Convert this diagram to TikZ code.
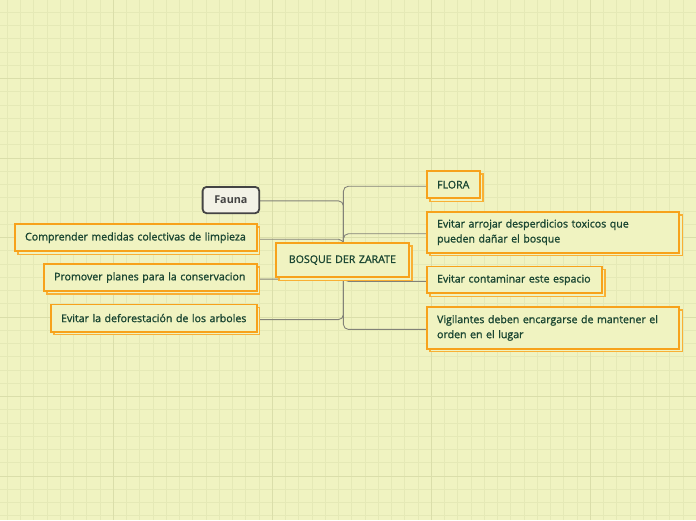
\documentclass[tikz,border=0pt]{standalone}
\usepackage{fontspec}
\setmainfont{Open Sans}
\newfontfamily\topicfont{Open Sans}[FakeBold=1.3]
\usetikzlibrary{calc,shadows}
\definecolor{bgc}{RGB}{240,243,193}
\definecolor{gridc}{RGB}{229,233,182}
\definecolor{gridm}{RGB}{218,222,170}
\definecolor{orangec}{RGB}{247,162,27}
\definecolor{shadc}{RGB}{249,176,52}
\definecolor{txtc}{RGB}{26,70,50}
\definecolor{connc}{RGB}{130,130,120}
\definecolor{faunab}{RGB}{68,68,68}
\definecolor{faunaf}{RGB}{243,242,230}
\pgfdeclarelayer{gridlayer}
\pgfdeclarelayer{connlayer}
\pgfsetlayers{gridlayer,connlayer,main}
\tikzset{
  topicbox/.style={draw=orangec, line width=1.8pt, fill=bgc, anchor=north west,
    inner xsep=10pt, inner ysep=0pt, text=txtc,
    font=\topicfont\fontsize{10.6}{15}\selectfont, align=left,
    general shadow={shadow xshift=3pt, shadow yshift=-3pt, draw=shadc, line width=1.5pt, fill=bgc}},
  faunabox/.style={draw=faunab, line width=1.8pt, fill=faunaf, rounded corners=4pt,
    anchor=north west, inner sep=0pt, text=faunab, font=\fontsize{10.8}{13}\selectfont\bfseries},
  conn/.style={draw=connc, line width=0.9pt, rounded corners=5pt},
  minorline/.style={draw=gridc, line width=0.8pt},
  majorline/.style={draw=gridm, line width=0.9pt}
}
\begin{document}
\begin{tikzpicture}[x=1pt,y=-1pt]
\useasboundingbox (0,0) rectangle (696,520);
\begin{pgfonlayer}{gridlayer}
  \fill[bgc] (0,0) rectangle (696,520);
  \foreach \i in {0,...,51} { \draw[minorline] ({7.3+13.25*\i},0) -- ({7.3+13.25*\i},520); }
  \foreach \i in {0,...,38} { \draw[minorline] (0,{12.3+13.25*\i}) -- (696,{12.3+13.25*\i}); }
  \foreach \i in {8,20,32,44} { \draw[majorline] ({7.3+13.25*\i},0) -- ({7.3+13.25*\i},520); }
  \foreach \i in {5,11,17,23,29,35} { \draw[majorline] (0,{12.3+13.25*\i}) -- (696,{12.3+13.25*\i}); }
\end{pgfonlayer}

\node[topicbox, align=center, minimum width=133.2pt, minimum height=34.5pt, text width=113.2pt] (center) at (274.9,241.9) {BOSQUE DER ZARATE};

\node[faunabox, minimum width=56.6pt, minimum height=26.3pt] (fauna) at (201.7,186) {Fauna};
\node[topicbox, minimum width=241.6pt, minimum height=27.2pt, text width=221.6pt] (comprender) at (14.2,223.2) {Comprender medidas colectivas de limpieza};
\node[topicbox, minimum width=212.6pt, minimum height=27pt, text width=192.6pt] (promover) at (43.2,263.2) {Promover planes para la conservacion};
\node[topicbox, minimum width=205.6pt, minimum height=27.2pt, text width=185.6pt] (deforest) at (50.2,303.6) {Evitar la deforestación de los arboles};

\node[topicbox, minimum width=52.9pt, minimum height=27.2pt, text width=32.9pt] (flora) at (426.2,170.2) {FLORA};
\node[topicbox, minimum width=252.2pt, minimum height=40.9pt, text width=232.2pt] (arrojar) at (426.2,210.9) {Evitar arrojar desperdicios toxicos que\\pueden dañar el bosque};
\node[topicbox, minimum width=174.9pt, minimum height=26.8pt, text width=154.9pt] (contaminar) at (426.2,265.6) {Evitar contaminar este espacio};
\node[topicbox, minimum width=252.2pt, minimum height=41.6pt, text width=232.2pt] (vigilantes) at (426.2,306.2) {Vigilantes deben encargarse de mantener el\\orden en el lugar};

\begin{pgfonlayer}{connlayer}
  \coordinate (hub) at ($(center.center)+(1,0)$);
  \draw[conn] ($(fauna.east)+(0,0.8)$) -| (hub);
  \draw[conn] ($(comprender.east)+(0,1.5)$) -| (hub);
  \draw[conn] ($(promover.east)+(0,1.5)$) -| (hub);
  \draw[conn] ($(deforest.east)+(0,1.5)$) -| (hub);
  \draw[conn] (hub) |- ($(flora.west)+(0,1.5)$);
  \draw[conn] (hub) |- ($(arrojar.west)+(0,1.5)$);
  \draw[conn] (hub) |- ($(contaminar.west)+(0,1.5)$);
  \draw[conn] (hub) |- ($(vigilantes.west)+(0,1.5)$);
\end{pgfonlayer}
\end{tikzpicture}
\end{document}
